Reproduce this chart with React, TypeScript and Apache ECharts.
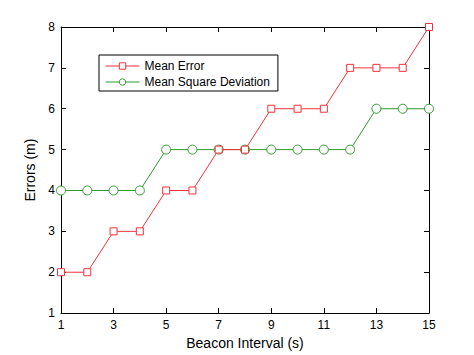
import React, { useEffect, useRef } from "react";
import * as echarts from "echarts";

const intervals = [1, 2, 3, 4, 5, 6, 7, 8, 9, 10, 11, 12, 13, 14, 15];
const meanError = [2, 2, 3, 3, 4, 4, 5, 5, 6, 6, 6, 7, 7, 7, 8];
const meanSquareDeviation = [4, 4, 4, 4, 5, 5, 5, 5, 5, 5, 5, 5, 6, 6, 6];

const RED = "#f2333a";
const GREEN = "#2f9a2f";
const FONT = "Liberation Sans, Arial, sans-serif";

export default function App() {
  const ref = useRef<HTMLDivElement>(null);
  useEffect(() => {
    if (!ref.current) return;
    const chart = echarts.init(ref.current, null, { renderer: "svg" });
    const axisLine = { show: true, lineStyle: { color: "#000", width: 1 } };
    const axisTick = { show: true, inside: true, length: 5, lineStyle: { color: "#000" } };
    chart.setOption({
      animation: false,
      backgroundColor: "#fff",
      textStyle: { fontFamily: FONT },
      grid: { left: 61, top: 27, right: 45, bottom: 39 },
      legend: {
        orient: "vertical",
        left: 99,
        top: 55,
        borderColor: "#000",
        borderWidth: 1,
        padding: [5, 8, 3, 6],
        itemGap: 4,
        itemWidth: 34,
        itemHeight: 8,
        itemStyle: { borderWidth: 1 },
        lineStyle: { width: 1 },
        textStyle: { fontFamily: FONT, fontSize: 12, color: "#000" },
        data: ["Mean Error", "Mean Square Deviation"],
      },
      xAxis: [
        {
          type: "value",
          min: 1,
          max: 15,
          interval: 2,
          name: "Beacon Interval (s)",
          nameLocation: "middle",
          nameGap: 21,
          nameTextStyle: { fontSize: 14, color: "#000", fontFamily: FONT },
          axisLine,
          axisTick,
          axisLabel: { color: "#000", fontSize: 12, margin: 6, fontFamily: FONT },
          splitLine: { show: false },
        },
        {
          type: "value",
          position: "top",
          min: 1,
          max: 15,
          interval: 2,
          axisLine,
          axisTick,
          axisLabel: { show: false },
          splitLine: { show: false },
        },
      ],
      yAxis: [
        {
          type: "value",
          min: 1,
          max: 8,
          interval: 1,
          name: "Errors (m)",
          nameLocation: "middle",
          nameGap: 20,
          nameTextStyle: { fontSize: 14, color: "#000", fontFamily: FONT },
          axisLine,
          axisTick,
          axisLabel: { color: "#000", fontSize: 12, margin: 6, fontFamily: FONT },
          splitLine: { show: false },
        },
        {
          type: "value",
          position: "right",
          min: 1,
          max: 8,
          interval: 1,
          axisLine,
          axisTick,
          axisLabel: { show: false },
          splitLine: { show: false },
        },
      ],
      series: [
        {
          name: "Mean Error",
          type: "line",
          data: intervals.map((x, i) => [x, meanError[i]]),
          symbol: "rect",
          symbolSize: 7,
          lineStyle: { color: RED, width: 1 },
          itemStyle: { color: "#fff", borderColor: RED, borderWidth: 1 },
          z: 3,
        },
        {
          name: "Mean Square Deviation",
          type: "line",
          data: intervals.map((x, i) => [x, meanSquareDeviation[i]]),
          symbol: "circle",
          symbolSize: 9,
          lineStyle: { color: GREEN, width: 1 },
          itemStyle: { color: "#fff", borderColor: GREEN, borderWidth: 1 },
          z: 2,
        },
      ],
    });
    return () => chart.dispose();
  }, []);
  return <div ref={ref} style={{ width: 474, height: 355, position: "absolute", left: 0, top: 0 }} />;
}
